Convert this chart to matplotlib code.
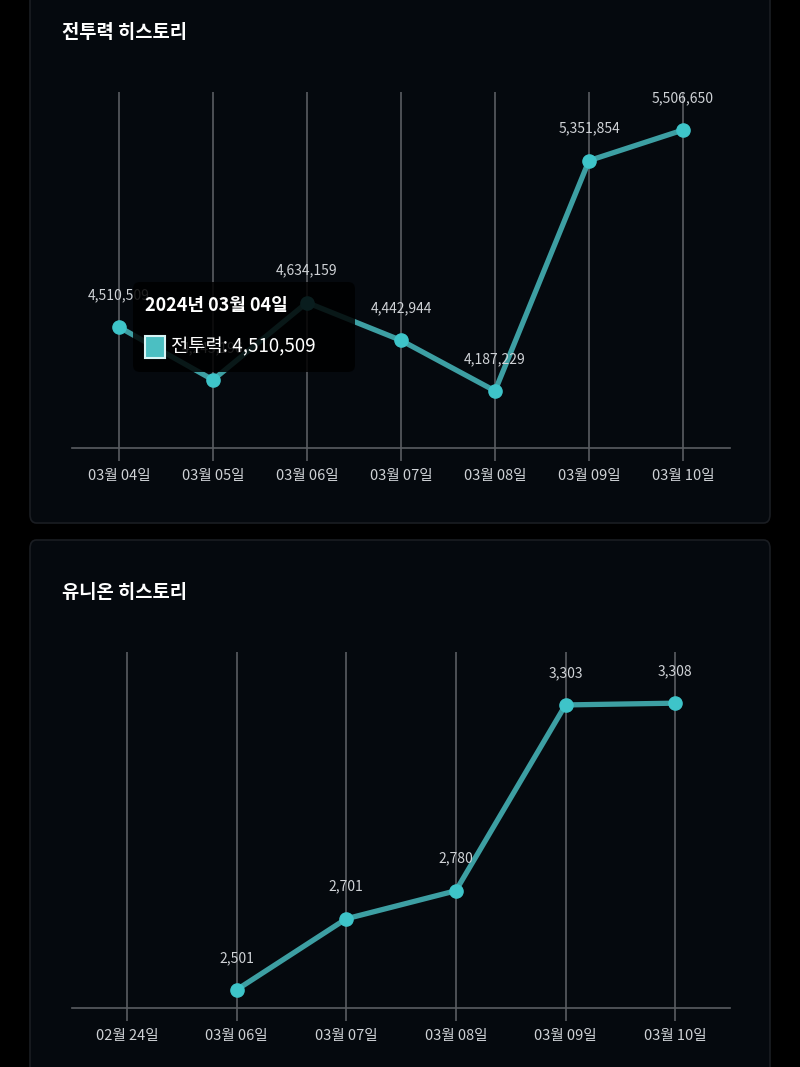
import numpy as np
import matplotlib.pyplot as plt
from matplotlib.patches import FancyBboxPatch, Rectangle

plt.rcParams['font.family'] = ['Noto Sans CJK KR', 'Noto Sans CJK JP', 'Noto Sans CJK SC', 'DejaVu Sans']

# Data
power_dates = ['03월 04일', '03월 05일', '03월 06일', '03월 07일', '03월 08일', '03월 09일', '03월 10일']
power_values = [4510509, 4243196, 4634159, 4442944, 4187229, 5351854, 5506650]
union_dates = ['02월 24일', '03월 06일', '03월 07일', '03월 08일', '03월 09일', '03월 10일']
union_values = [np.nan, 2501, 2701, 2780, 3303, 3308]

W, H = 800, 1067
BG = '#000000'
CARD = '#05090e'
LINE = '#3d9fa3'
DOT = '#3ec4c9'
GRID = '#5a5d62'
TXT = '#cfd2d6'

fig = plt.figure(figsize=(W / 100, H / 100), dpi=100, facecolor=BG)


def px_axes(x0, y0, x1, y1):
    # axes from pixel box (top-left origin)
    ax = fig.add_axes([x0 / W, 1 - y1 / H, (x1 - x0) / W, (y1 - y0) / H])
    ax.set_zorder(2)
    return ax


# cards
for (y0, y1) in [(-10, 523), (540, 1080)]:
    fig.patches.append(FancyBboxPatch((30 / W, 1 - y1 / H), 740 / W, (y1 - y0) / H,
                                      boxstyle='round,pad=0,rounding_size=0.008',
                                      transform=fig.transFigure, facecolor=CARD,
                                      edgecolor='#1a1d22', linewidth=1.2, zorder=-5))

fig.text(62 / W, 1 - 33 / H, '전투력 히스토리', color='white', fontsize=13.5,
         fontweight='bold', va='center')
fig.text(62 / W, 1 - 592 / H, '유니온 히스토리', color='white', fontsize=13.5,
         fontweight='bold', va='center')


def draw(ax, cats, vals, ylim):
    x = np.arange(len(cats))
    ax.set_facecolor('none')
    ax.set_xlim(-0.5, len(cats) - 0.5)
    ax.set_ylim(*ylim)
    for xi in x:
        ax.axvline(xi, color=GRID, lw=1.2, zorder=1)
    for s in ['top', 'right', 'left']:
        ax.spines[s].set_visible(False)
    ax.spines['bottom'].set_color(GRID)
    ax.spines['bottom'].set_linewidth(1.2)
    ax.set_xticks(x)
    ax.set_xticklabels(cats, color=TXT, fontsize=10.5)
    ax.tick_params(axis='x', colors=GRID, length=9, width=1.2, pad=6, labelcolor=TXT)
    ax.set_yticks([])
    ax.plot(x, vals, color=LINE, lw=3.8, zorder=3, solid_capstyle='round')
    ax.plot(x, vals, 'o', color=DOT, ms=9.5, zorder=4)
    off = (ylim[1] - ylim[0]) * 0.09
    for xi, v in zip(x, vals):
        if not np.isnan(v):
            ax.text(xi, v + off, f'{int(v):,}', color=TXT, fontsize=10,
                    ha='center', va='center', zorder=5)


ax1 = px_axes(72, 92, 730, 448)
draw(ax1, power_dates, power_values, (3898700, 5698850))

ax2 = px_axes(72, 652, 730, 1008)
draw(ax2, union_dates, union_values, (2450, 3452))

# tooltip (on top of the chart)
tip = fig.add_axes([0, 0, 1, 1], facecolor='none')
tip.set_zorder(10)
tip.set_xlim(0, W)
tip.set_ylim(H, 0)
tip.axis('off')
tip.add_patch(FancyBboxPatch((133, 282), 222, 90, boxstyle='round,pad=0,rounding_size=7',
                             facecolor='#000000', alpha=0.85, edgecolor='none'))
tip.text(145, 305, '2024년 03월 04일', color='white', fontsize=13,
         fontweight='bold', va='center')
tip.add_patch(Rectangle((145, 336), 20, 22, facecolor='#4bbfc2',
                        edgecolor='#d8f4f5', linewidth=1.5))
tip.text(171, 347, f'전투력: {power_values[0]:,}', color='white',
         fontsize=13.5, va='center')

fig.savefig('out.png', dpi=100, facecolor=BG)
